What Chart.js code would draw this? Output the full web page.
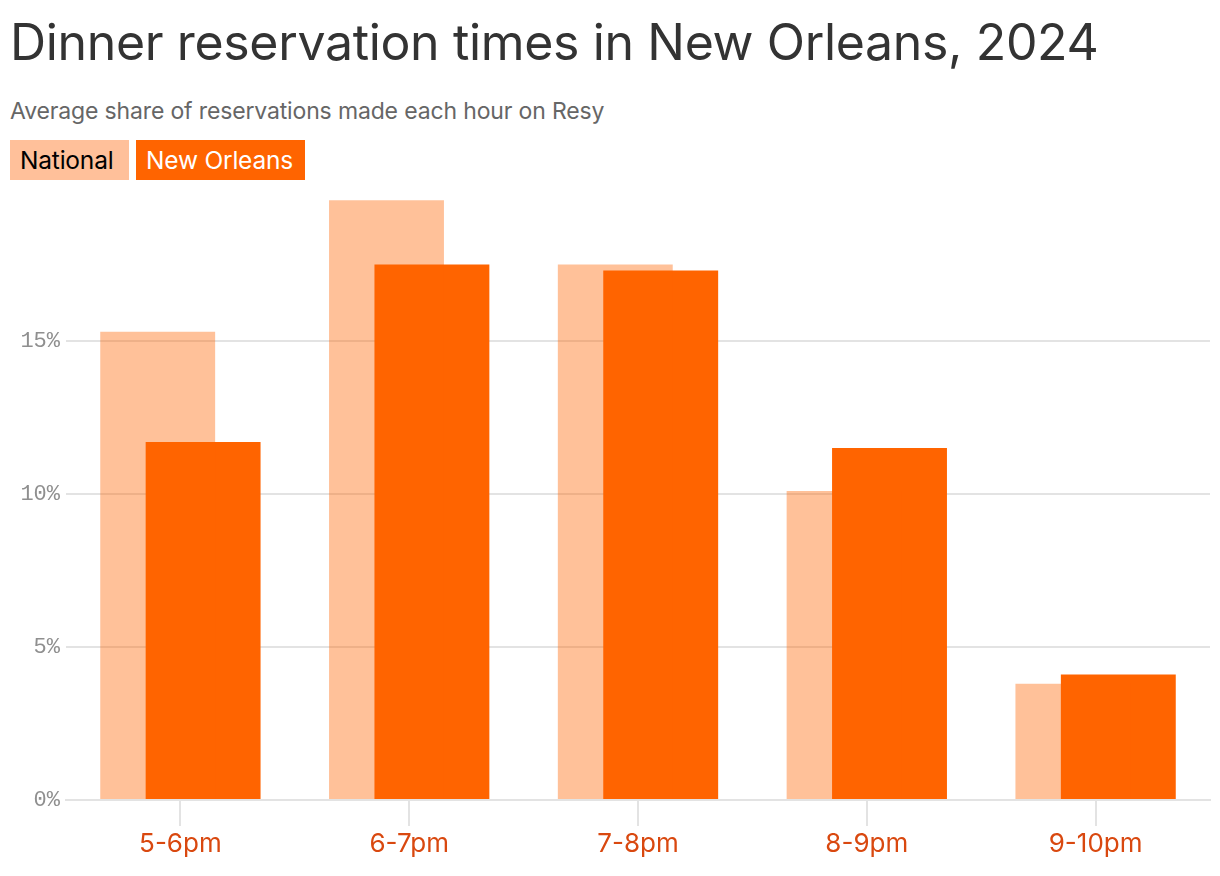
<!DOCTYPE html>
<html>
<head>
<meta charset="utf-8">
<script src="https://cdn.jsdelivr.net/npm/chart.js@4"></script>
<style>
  html, body { margin:0; padding:0; background:#fff; }
  body { width:1220px; height:876px; position:relative; overflow:hidden; font-family:"Inter", "Roboto", sans-serif; }
  #title { position:absolute; left:10px; top:12px; font-size:50px; color:#333; font-weight:400; letter-spacing:-0.35px; white-space:nowrap; }
  #subtitle { position:absolute; left:10px; top:97px; font-size:23px; color:#666; white-space:nowrap; letter-spacing:-0.15px; }
  #legend { position:absolute; left:10px; top:140px; display:flex; gap:7px; }
  .lg { height:40px; line-height:40px; padding:0 10px; font-size:24.5px; letter-spacing:-0.2px; box-sizing:border-box; white-space:nowrap; }
  #wrap { position:absolute; left:0; top:0; width:1220px; height:876px; }
</style>
</head>
<body>
<div id="title">Dinner reservation times in New Orleans, 2024</div>
<div id="subtitle">Average share of reservations made each hour on Resy</div>
<div id="legend">
  <div class="lg" style="background:#ffc09a;color:#000;width:119px;">National</div>
  <div class="lg" style="background:#ff6400;color:#fff;width:169px;">New Orleans</div>
</div>
<div id="wrap"><canvas id="c"></canvas></div>
<script>
const categories = ["5-6pm", "6-7pm", "7-8pm", "8-9pm", "9-10pm"];
const nationalValues = [15.3, 19.6, 17.5, 10.1, 3.8];
const newOrleansValues = [11.7, 17.5, 17.3, 11.5, 4.1];
const yTickValues = [0, 5, 10, 15];

new Chart(document.getElementById('c'), {
  type: 'bar',
  data: {
    labels: categories,
    datasets: [
      { label: 'National', data: nationalValues, backgroundColor: 'rgba(255,100,0,0.4)', categoryPercentage: 0.397, barPercentage: 2.53 },
      { label: 'New Orleans', data: newOrleansValues, backgroundColor: '#ff6400', categoryPercentage: 0.397, barPercentage: 2.53 }
    ]
  },
  options: {
    responsive: true,
    maintainAspectRatio: false,
    animation: false,
    layout: { padding: { top: 188, right: 10, left: 0, bottom: 0 } },
    plugins: { legend: { display: false }, tooltip: { enabled: false } },
    scales: {
      x: {
        grid: { drawOnChartArea: false, drawTicks: true, tickLength: 26, offset: false, color: '#e3e3e3', lineWidth: 2 },
        border: { display: true, color: '#e3e3e3', width: 2 },
        ticks: { color: '#d9480f', font: { family: 'Inter', size: 26 }, padding: 3, maxRotation: 0 },
        afterFit: (a) => { a.height = 76; }
      },
      y: {
        min: 0, max: 20,
        afterBuildTicks: (a) => { a.ticks = yTickValues.map(v => ({ value: v })); },
        grid: { drawTicks: false, color: '#e3e3e3', lineWidth: 2 },
        border: { display: false },
        ticks: { color: '#8f8f8f', font: { family: 'Liberation Mono', size: 22 }, padding: 6, callback: (v) => v + '%' },
        afterFit: (a) => { a.width = 66; }
      }
    }
  }
});
</script>
</body>
</html>
